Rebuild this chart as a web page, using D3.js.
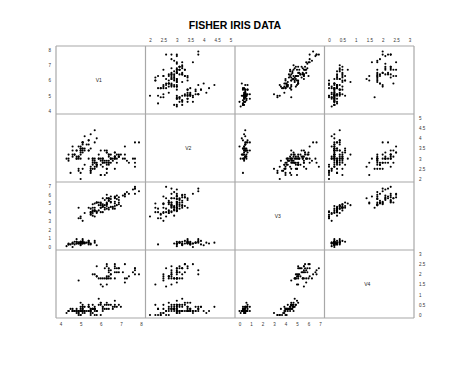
<!DOCTYPE html>
<html>
<head>
<meta charset="utf-8">
<script src="https://cdn.jsdelivr.net/npm/d3@7"></script>
<style>
body { margin: 0; background: #fff; }
svg { display: block; font-family: "Liberation Sans", Arial, sans-serif; }
</style>
</head>
<body>
<svg id="chart" width="474" height="366"></svg>
<script>
// iris values as they appear in the plot (V1..V4), 150 rows
const v1 = [5.1,4.9,4.7,4.6,5.0,5.4,4.6,5.0,4.4,4.9,5.4,4.8,4.8,4.3,5.8,5.7,5.4,5.1,5.7,5.1,5.4,5.1,4.6,5.1,4.8,5.0,5.0,5.2,5.2,4.7,4.8,5.4,5.2,5.5,4.9,5.0,5.5,4.9,4.4,5.1,5.0,4.5,4.4,5.0,5.1,4.8,5.1,4.6,5.3,5.0,
  7.0,6.4,6.9,5.5,6.5,5.7,6.3,4.9,6.6,5.2,5.0,5.9,6.0,6.1,5.6,6.7,5.6,5.8,6.2,5.6,5.9,6.1,6.3,6.1,6.4,6.6,6.8,6.7,6.0,5.7,5.5,5.5,5.8,6.0,5.4,6.0,6.7,6.3,5.6,5.5,5.5,6.1,5.8,5.0,5.6,5.7,5.7,6.2,5.1,5.7,
  6.3,5.8,7.1,6.3,6.5,7.6,4.9,7.3,6.7,7.2,6.5,6.4,6.8,5.7,5.8,6.4,6.5,7.7,7.7,6.0,6.9,5.6,7.7,6.3,6.7,7.2,6.2,6.1,6.4,7.2,7.4,7.9,6.4,6.3,6.1,7.7,6.3,6.4,6.0,6.9,6.7,6.9,5.8,6.8,6.7,6.7,6.3,6.5,6.2,5.9];
const v2 = [3.5,3.0,3.2,3.1,3.6,3.9,3.4,3.4,2.9,3.1,3.7,3.4,3.0,3.0,4.0,4.4,3.9,3.5,3.8,3.8,3.4,3.7,3.6,3.3,3.4,3.0,3.4,3.5,3.4,3.2,3.1,3.4,4.1,4.2,3.1,3.2,3.5,3.6,3.0,3.4,3.5,2.3,3.2,3.5,3.8,3.0,3.8,3.2,3.7,3.3,
  3.2,3.2,3.1,2.3,2.8,2.8,3.3,2.4,2.9,2.7,2.0,3.0,2.2,2.9,2.9,3.1,3.0,2.7,2.2,2.5,3.2,2.8,2.5,2.8,2.9,3.0,2.8,3.0,2.9,2.6,2.4,2.4,2.7,2.7,3.0,3.4,3.1,2.3,3.0,2.5,2.6,3.0,2.6,2.3,2.7,3.0,2.9,2.9,2.5,2.8,
  3.3,2.7,3.0,2.9,3.0,3.0,2.5,2.9,2.5,3.6,3.2,2.7,3.0,2.5,2.8,3.2,3.0,3.8,2.6,2.2,3.2,2.8,2.8,2.7,3.3,3.2,2.8,3.0,2.8,3.0,2.8,3.8,2.8,2.8,2.6,3.0,3.4,3.1,3.0,3.1,3.1,3.1,2.7,3.2,3.3,3.0,2.5,3.0,3.4,3.0];
const v3 = [0.4,0.4,0.3,0.5,0.4,0.7,0.4,0.5,0.4,0.5,0.5,0.6,0.4,0.1,0.2,0.5,0.3,0.4,0.7,0.5,0.7,0.5,0.0,0.7,0.9,0.6,0.6,0.5,0.4,0.6,0.6,0.5,0.5,0.4,0.5,0.2,0.3,0.4,0.3,0.5,0.3,0.3,0.3,0.6,0.9,0.4,0.6,0.4,0.5,0.4,
  4.7,4.5,4.9,4.0,4.6,4.5,4.7,3.3,4.6,3.9,3.5,4.2,4.0,4.7,3.6,4.4,4.5,4.1,4.5,3.9,4.8,4.0,4.9,4.7,4.3,4.4,4.8,5.0,4.5,3.5,3.8,3.7,3.9,5.1,4.5,4.5,4.7,4.4,4.1,4.0,4.4,4.6,4.0,3.3,4.2,4.2,4.2,4.3,3.0,4.1,
  6.0,5.1,5.9,5.6,5.8,6.6,4.5,6.3,5.8,6.1,5.1,5.3,5.5,5.0,5.1,5.3,5.5,6.7,6.9,5.0,5.7,4.9,6.7,4.9,5.7,6.0,4.8,4.9,5.6,5.8,6.1,6.4,5.6,5.1,5.6,6.1,5.6,5.5,4.8,5.4,5.6,5.1,5.1,5.9,5.7,5.2,5.0,5.2,5.4,5.1];
const v4 = [0.2,0.2,0.2,0.2,0.2,0.4,0.3,0.2,0.2,0.1,0.2,0.2,0.1,0.1,0.2,0.4,0.4,0.3,0.3,0.3,0.2,0.4,0.2,0.5,0.2,0.2,0.4,0.2,0.2,0.2,0.2,0.4,0.1,0.2,0.2,0.2,0.2,0.1,0.2,0.2,0.3,0.3,0.2,0.6,0.4,0.3,0.2,0.2,0.2,0.2,
  0.4,0.5,0.5,0.3,0.5,0.3,0.6,0.0,0.3,0.4,0.0,0.5,0.0,0.4,0.3,0.4,0.5,0.0,0.5,0.1,0.8,0.3,0.5,0.2,0.3,0.4,0.4,0.7,0.5,0.0,0.1,0.0,0.2,0.6,0.5,0.6,0.5,0.3,0.3,0.3,0.2,0.4,0.2,0.0,0.3,0.2,0.3,0.3,0.1,0.3,
  2.5,1.9,2.1,1.8,2.2,2.1,1.7,1.8,1.8,2.5,2.0,1.9,2.1,2.0,2.4,2.3,1.8,2.2,2.3,1.5,2.3,2.0,2.0,1.8,2.1,1.8,1.8,1.8,2.1,1.6,1.9,2.0,2.2,1.5,1.4,2.3,2.4,1.8,1.8,2.1,2.4,2.3,1.9,2.3,2.5,2.3,1.9,2.0,2.3,1.8];

const varNames = ["V1", "V2", "V3", "V4"];
const domains = [[4, 8], [2, 5], [0, 7], [0, 3]];
const tickValues = [
  [4, 5, 6, 7, 8],
  [2, 2.5, 3, 3.5, 4, 4.5, 5],
  [0, 1, 2, 3, 4, 5, 6, 7],
  [0, 0.5, 1, 1.5, 2, 2.5, 3]
];
const title = "FISHER IRIS DATA";

const columns = [v1, v2, v3, v4];
const n = v1.length;

const svg = d3.select("#chart");
const gridLeft = 56, gridTop = 46, cellW = 89.5, cellH = 68;

// scales for each variable when used as x (column) or y (row)
const xs = domains.map((d, i) => d3.scaleLinear().domain(d)
  .range([gridLeft + i * cellW + 4.5, gridLeft + i * cellW + 85]));
const ys = domains.map((d, i) => d3.scaleLinear().domain(d)
  .range([gridTop + i * cellH + 65, gridTop + i * cellH + 4]));

svg.append("text")
  .attr("x", 235).attr("y", 29)
  .attr("text-anchor", "middle")
  .attr("font-size", 10.5).attr("font-weight", "bold")
  .text(title);

const fmt = d => (d % 1 === 0 ? d3.format("d")(d) : d3.format(".1f")(d));

for (let r = 0; r < 4; r++) {
  for (let c = 0; c < 4; c++) {
    const g = svg.append("g");
    const x0 = gridLeft + c * cellW, y0 = gridTop + r * cellH;
    if (r === c) {
      g.append("text")
        .attr("x", x0 + cellW / 2 - 2).attr("y", y0 + cellH / 2 + 2)
        .attr("text-anchor", "middle")
        .attr("font-size", 5).attr("fill", "#222")
        .text(varNames[r]);
      continue;
    }
    g.selectAll("circle")
      .data(d3.range(n)).enter()
      .append("circle")
      .attr("cx", i => xs[c](columns[c][i]))
      .attr("cy", i => ys[r](columns[r][i]))
      .attr("r", 1.05)
      .attr("fill", "#000");
  }
}

// grid lines of the panels
const grid = svg.append("g").attr("stroke", "#a8a8a8").attr("stroke-width", 1.2).attr("fill", "none");
for (let i = 0; i <= 4; i++) {
  grid.append("line")
    .attr("x1", gridLeft + i * cellW).attr("x2", gridLeft + i * cellW)
    .attr("y1", gridTop).attr("y2", gridTop + 4 * cellH);
  grid.append("line")
    .attr("x1", gridLeft).attr("x2", gridLeft + 4 * cellW)
    .attr("y1", gridTop + i * cellH).attr("y2", gridTop + i * cellH);
}

// axes alternate: bottom for cols 0,2, top for cols 1,3; left for rows 0,2, right for rows 1,3
function styleAxis(sel) {
  sel.select(".domain").remove();
  sel.selectAll(".tick line").remove();
  sel.selectAll(".tick text").attr("font-size", 4.5).attr("fill", "#333")
    .attr("font-family", "'Liberation Sans', Arial, sans-serif");
}
for (let i = 0; i < 4; i++) {
  if (i % 2 === 0) {
    svg.append("g").attr("transform", `translate(0,${gridTop + 4 * cellH + 2})`)
      .call(d3.axisBottom(xs[i]).tickValues(tickValues[i]).tickFormat(fmt).tickSize(0))
      .call(styleAxis);
    svg.append("g").attr("transform", `translate(${gridLeft - 2},0)`)
      .call(d3.axisLeft(ys[i]).tickValues(tickValues[i]).tickFormat(fmt).tickSize(0))
      .call(styleAxis);
  } else {
    svg.append("g").attr("transform", `translate(0,${gridTop - 1})`)
      .call(d3.axisTop(xs[i]).tickValues(tickValues[i]).tickFormat(fmt).tickSize(0))
      .call(styleAxis);
    svg.append("g").attr("transform", `translate(${gridLeft + 4 * cellW + 2},0)`)
      .call(d3.axisRight(ys[i]).tickValues(tickValues[i]).tickFormat(fmt).tickSize(0))
      .call(styleAxis);
  }
}
</script>
</body>
</html>
